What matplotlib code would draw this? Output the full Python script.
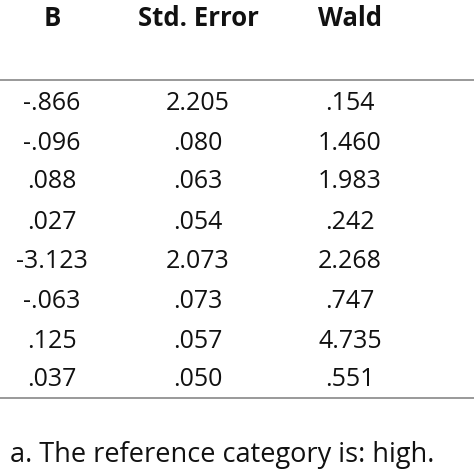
import matplotlib
matplotlib.use("Agg")
import matplotlib.pyplot as plt

headers = ["B", "Std. Error", "Wald"]
col_b = ["-.866", "-.096", ".088", ".027", "-3.123", "-.063", ".125", ".037"]
col_se = ["2.205", ".080", ".063", ".054", "2.073", ".073", ".057", ".050"]
col_wald = [".154", "1.460", "1.983", ".242", "2.268", ".747", "4.735", ".551"]
footnote = "a. The reference category is: high."

W = H = 474
fig = plt.figure(figsize=(W/100, H/100), dpi=100)
ax = fig.add_axes([0, 0, 1, 1])
ax.set_xlim(0, W); ax.set_ylim(H, 0); ax.axis("off")
font = "Open Sans"
xs = [52, 198, 350]
for x, h in zip(xs, headers):
    ax.text(x, 18, h, ha="center", va="center", fontsize=18.5, fontweight="bold", family=font, color="#111")
ax.plot([0, W], [80, 80], color="#888", lw=1.2)
ys = [103, 143, 182, 222, 262, 302, 341, 380]
for i, y in enumerate(ys):
    for x, col in zip(xs, [col_b, col_se, col_wald]):
        ax.text(x, y, col[i], ha="center", va="center", fontsize=18, family=font, color="#111")
ax.plot([0, W], [398, 398], color="#888", lw=1.2)
ax.text(10, 455, footnote, ha="left", va="center", fontsize=19.5, family=font, color="#111")
fig.savefig("out.png", dpi=100)
